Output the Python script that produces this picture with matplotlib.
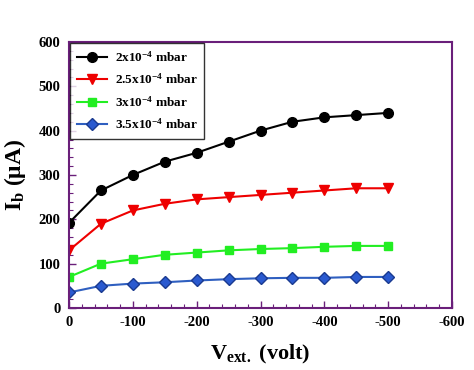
import numpy as np
import matplotlib
matplotlib.use('Agg')
import matplotlib.pyplot as plt
from matplotlib.ticker import MultipleLocator

plt.rcParams['font.family'] = 'Liberation Serif'
plt.rcParams['font.weight'] = 'bold'
plt.rcParams['axes.labelweight'] = 'bold'
plt.rcParams['axes.unicode_minus'] = False
plt.rcParams['mathtext.fontset'] = 'custom'
plt.rcParams['mathtext.rm'] = 'Liberation Serif:bold'
plt.rcParams['mathtext.it'] = 'Liberation Serif:bold'
plt.rcParams['mathtext.bf'] = 'Liberation Serif:bold'

# data
voltage = [0, -50, -100, -150, -200, -250, -300, -350, -400, -450, -500]
ib_2 = [192, 265, 300, 330, 350, 375, 400, 420, 430, 435, 440]
ib_25 = [130, 190, 220, 235, 245, 250, 255, 260, 265, 270, 270]
ib_3 = [70, 100, 110, 120, 125, 130, 133, 135, 138, 140, 140]
ib_35 = [35, 50, 55, 58, 62, 65, 67, 68, 68, 70, 70]
labels = ['2x10$^{-4}$ mbar', '2.5x10$^{-4}$ mbar', '3x10$^{-4}$ mbar', '3.5x10$^{-4}$ mbar']

fig = plt.figure(figsize=(4.74, 3.70), dpi=100)
ax = fig.add_axes([0.1456, 0.1676, 0.808, 0.719])

ax.plot(voltage, ib_2, color='black', marker='o', ms=7, lw=1.5, label=labels[0])
ax.plot(voltage, ib_25, color='#ee0000', marker='v', ms=7, lw=1.5, label=labels[1])
ax.plot(voltage, ib_3, color='#22ee22', marker='s', ms=6, lw=1.5, label=labels[2])
ax.plot(voltage, ib_35, color='#2f5fc0', marker='D', ms=6, lw=1.5,
        markerfacecolor='#2a5ad0', markeredgecolor='#1a3a90', label=labels[3])

ax.set_xlim(0, -600)
ax.set_ylim(0, 600)
ax.xaxis.set_major_locator(MultipleLocator(100))
ax.xaxis.set_minor_locator(MultipleLocator(20))
ax.yaxis.set_major_locator(MultipleLocator(100))
ax.yaxis.set_minor_locator(MultipleLocator(20))
ax.tick_params(which='both', direction='in', top=False, right=False,
               labelsize=10.5, color='#6a1f7a')
ax.tick_params(which='major', length=5, width=1, pad=6)
ax.tick_params(which='minor', length=3, width=0.8)
for s in ax.spines.values():
    s.set_color('#6a1f7a')
    s.set_linewidth(1.5)

ax.set_xlabel('V$_{ext.}$ (volt)', fontsize=16, labelpad=10)
ax.set_ylabel('I$_{b}$ ($\\mu$A)', fontsize=17, labelpad=8)

leg = ax.legend(loc='upper left', fontsize=9.5, frameon=True, fancybox=False,
                edgecolor='black', handlelength=2.3, borderaxespad=0.1,
                labelspacing=0.6, borderpad=0.5, handletextpad=0.6)
leg.get_frame().set_linewidth(1.0)

fig.savefig('out.png', dpi=100)
